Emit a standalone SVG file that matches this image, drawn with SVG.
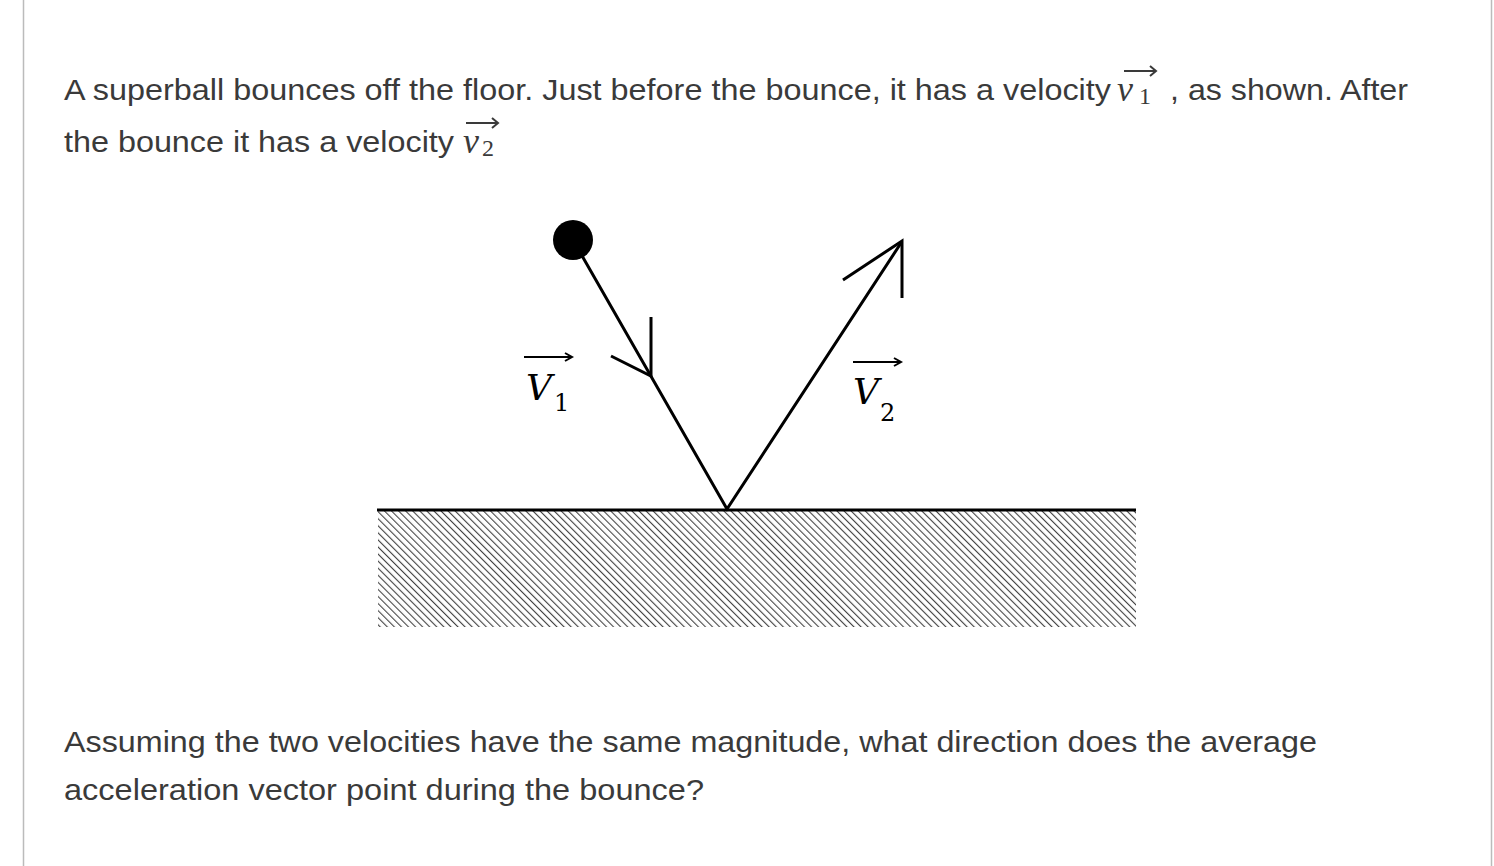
<svg xmlns="http://www.w3.org/2000/svg" width="1494" height="866" viewBox="0 0 1494 866">
<defs>
<pattern id="hatch" patternUnits="userSpaceOnUse" width="5" height="5" patternTransform="rotate(-45)">
<rect width="5" height="5" fill="#fff"/>
<line x1="0" y1="0" x2="0" y2="5" stroke="#444" stroke-width="2.2"/>
</pattern>
</defs>
<style>
.t{font-family:"Liberation Sans",Arial,sans-serif;font-size:30px;fill:#3a3a3a}
.m{font-family:"Liberation Serif",serif;font-style:italic;font-size:36px;fill:#3a3a3a}
.s{font-family:"Liberation Serif",serif;font-size:24px;fill:#3a3a3a}
.lab{font-family:"DejaVu Serif","Liberation Serif",serif;font-style:italic;font-size:36px;fill:#000}
.sub{font-family:"DejaVu Serif","Liberation Serif",serif;font-size:24px;fill:#000}
.ln{stroke:#000;stroke-width:3;fill:none}
</style>
<rect width="1494" height="866" fill="#fff"/>
<line x1="23.5" y1="0" x2="23.5" y2="866" stroke="#bbb" stroke-width="1.5"/>
<line x1="1491.5" y1="0" x2="1491.5" y2="866" stroke="#bbb" stroke-width="1.5"/>
<g id="text-top">
<text class="t" x="64" y="100" textLength="1047" lengthAdjust="spacingAndGlyphs">A superball bounces off the floor. Just before the bounce, it has a velocity</text>
<text class="m" x="1117" y="101">v</text><text class="s" x="1139" y="104">1</text>
<text class="t" x="1170" y="100" textLength="238" lengthAdjust="spacingAndGlyphs">, as shown. After</text>
<path d="M1124 71h32M1150 66l6 5-6 5" stroke="#3a3a3a" stroke-width="2" fill="none"/>
<text class="t" x="64" y="152" textLength="390" lengthAdjust="spacingAndGlyphs">the bounce it has a velocity</text>
<text class="m" x="463" y="153">v</text><text class="s" x="482" y="156">2</text>
<path d="M466 123h32M492 118l6 5-6 5" stroke="#3a3a3a" stroke-width="2" fill="none"/>
</g>
<g id="floor">
<rect x="378" y="511" width="758" height="116" fill="url(#hatch)"/>
<line x1="377" y1="510" x2="1136" y2="510" stroke="#000" stroke-width="3"/>
</g>
<g id="ball"><circle cx="573" cy="240" r="20" fill="#000"/></g>
<g id="connectors">
<path class="ln" d="M581 254L727 509L901 243"/>
<path class="ln" d="M611 356L651 376L651 317"/>
<path class="ln" d="M843 280L902 241L902 298"/>
</g>
<g id="label-v1">
<path d="M524 357h48M565 353l7 4-7 4" stroke="#000" stroke-width="2" fill="none"/>
<text class="lab" x="526" y="400">V</text><text class="sub" x="554" y="411">1</text>
</g>
<g id="label-v2">
<path d="M853 362h48M894 358l7 4-7 4" stroke="#000" stroke-width="2" fill="none"/>
<text class="lab" x="853" y="404">V</text><text class="sub" x="880" y="421">2</text>
</g>
<g id="text-bottom">
<text class="t" x="64" y="752" textLength="1253" lengthAdjust="spacingAndGlyphs">Assuming the two velocities have the same magnitude, what direction does the average</text>
<text class="t" x="64" y="800" textLength="640" lengthAdjust="spacingAndGlyphs">acceleration vector point during the bounce?</text>
</g>
</svg>
